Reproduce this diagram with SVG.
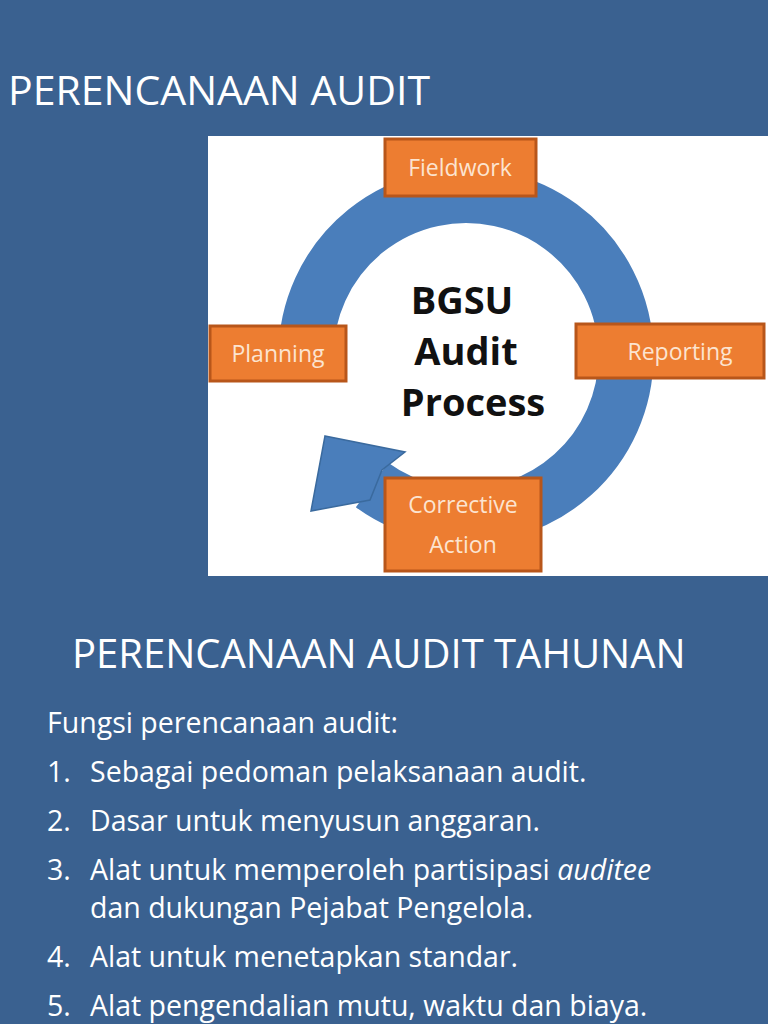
<svg xmlns="http://www.w3.org/2000/svg" width="768" height="1024" viewBox="0 0 768 1024">
<style>
.t{font-family:"Open Sans","Liberation Sans",sans-serif;fill:#fff}
.box{fill:#ED7D31;stroke:#B8561A;stroke-width:3}
.bl{font-family:"Open Sans","Liberation Sans",sans-serif;font-size:23px;fill:#FCE4D0;text-anchor:middle}
.c{font-family:"Open Sans","Liberation Sans",sans-serif;font-weight:bold;font-size:38px;fill:#111;text-anchor:middle}
</style>
<rect width="768" height="1024" fill="#3A6190"/>
<text class="t" x="8" y="105" font-size="41">PERENCANAAN AUDIT</text>
<rect x="208" y="136" width="560" height="440" fill="#fff"/>
<g id="connectors">
<path d="M306,355 A160,160 0 1 1 372,485" fill="none" stroke="#4A7EBB" stroke-width="55"/>
<polygon points="325,436 405,452 382,470 370,500 311,511" fill="#4A7EBB" stroke="#3A6A9E" stroke-width="1.5"/>
</g>
<g id="fieldwork"><rect class="box" x="385" y="139" width="151" height="57"/><text class="bl" x="460" y="176">Fieldwork</text></g>
<g id="planning"><rect class="box" x="210" y="326" width="136" height="55"/><text class="bl" x="278" y="362">Planning</text></g>
<g id="reporting"><rect class="box" x="576" y="324" width="188" height="54"/><text class="bl" x="680" y="360">Reporting</text></g>
<g id="corrective"><rect class="box" x="385" y="478" width="156" height="93"/><text class="bl" x="463" y="513">Corrective</text><text class="bl" x="463" y="553">Action</text></g>
<g id="center"><text class="c" x="462" y="314">BGSU</text><text class="c" x="466" y="365">Audit</text><text class="c" x="473" y="416">Process</text></g>
<text class="t" x="72" y="668" font-size="40">PERENCANAAN AUDIT TAHUNAN</text>
<g class="t" font-size="28.5">
<text x="47" y="733">Fungsi perencanaan audit:</text>
<text x="47" y="782">1.</text><text x="90" y="782">Sebagai pedoman pelaksanaan audit.</text>
<text x="47" y="831">2.</text><text x="90" y="831">Dasar untuk menyusun anggaran.</text>
<text x="47" y="880">3.</text><text x="90" y="880">Alat untuk memperoleh partisipasi <tspan font-style="italic">auditee</tspan></text>
<text x="90" y="918">dan dukungan Pejabat Pengelola.</text>
<text x="47" y="967">4.</text><text x="90" y="967">Alat untuk menetapkan standar.</text>
<text x="47" y="1016">5.</text><text x="90" y="1016">Alat pengendalian mutu, waktu dan biaya.</text>
</g>
</svg>
